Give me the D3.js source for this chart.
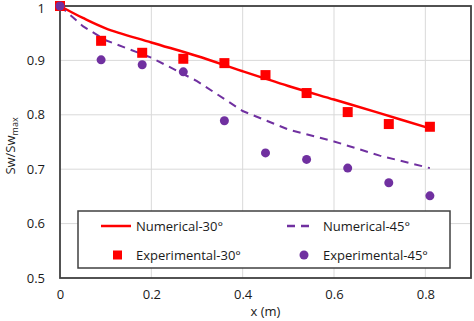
<!DOCTYPE html>
<html>
<head>
<meta charset="utf-8">
<script src="https://cdn.jsdelivr.net/npm/d3@7"></script>
<style>
  body { margin: 0; background: #fff; }
  svg text { font-family: "Open Sans", "Liberation Sans", sans-serif; fill: #1a1a1a; }
</style>
</head>
<body>
<svg id="chart" width="474" height="321"></svg>
<script>
// experimental points
var expX = [0, 0.09, 0.18, 0.27, 0.36, 0.45, 0.54, 0.63, 0.72, 0.81];
var exp30 = [1, 0.936, 0.914, 0.903, 0.895, 0.873, 0.840, 0.805, 0.783, 0.778];
var exp45 = [1, 0.901, 0.892, 0.879, 0.789, 0.730, 0.718, 0.702, 0.675, 0.651];

// numerical curves
var numX = [0, 0.05, 0.1, 0.2, 0.3, 0.4, 0.5, 0.6, 0.7, 0.81];
var num30 = [1, 0.978, 0.959, 0.933, 0.908, 0.880, 0.853, 0.828, 0.803, 0.775];
var num45 = [1, 0.963, 0.937, 0.905, 0.862, 0.807, 0.773, 0.751, 0.725, 0.702];

var xTicks = [0, 0.2, 0.4, 0.6, 0.8];
var yTicks = [0.5, 0.6, 0.7, 0.8, 0.9, 1];

var legendItems = [
  {label: "Numerical-30°", kind: "line"},
  {label: "Numerical-45°", kind: "dash"},
  {label: "Experimental-30°", kind: "square"},
  {label: "Experimental-45°", kind: "circle"}
];

(function(){
var red = "#ff0000", purple = "#7030a0";
var svg = d3.select("#chart");
var pL = 60, pR = 471, pT = 6, pB = 278;

var xScale = d3.scaleLinear().domain([0, 0.9]).range([pL, pR]);
var yScale = d3.scaleLinear().domain([0.5, 1]).range([pB, pT]);

// grid
var grid = svg.append("g");
grid.selectAll(".gx").data(xTicks.slice(1)).enter().append("line")
  .attr("x1", d => xScale(d)).attr("x2", d => xScale(d))
  .attr("y1", pT).attr("y2", pB)
  .attr("stroke", "#d9d9d9").attr("stroke-width", 1);
grid.selectAll(".gy").data(yTicks.slice(1)).enter().append("line")
  .attr("x1", pL).attr("x2", pR)
  .attr("y1", d => yScale(d)).attr("y2", d => yScale(d))
  .attr("stroke", "#d9d9d9").attr("stroke-width", 1);

// axes labels
var xAxis = svg.append("g").attr("transform", "translate(0," + pB + ")")
  .call(d3.axisBottom(xScale).tickValues(xTicks).tickSize(0).tickPadding(12).tickFormat(d => d === 0 ? "0" : d3.format(".1f")(d)));
var yAxis = svg.append("g").attr("transform", "translate(" + pL + ",0)")
  .call(d3.axisLeft(yScale).tickValues(yTicks).tickSize(0).tickPadding(15).tickFormat(d => d === 1 ? "1" : d3.format(".1f")(d)));
[xAxis, yAxis].forEach(function(a){
  a.select(".domain").remove();
  a.selectAll("text").style("font-size", "13px").attr("fill", "#1a1a1a");
});
// keep the top label inside the window
yAxis.selectAll(".tick").filter(d => d === 1).select("text").attr("dy", "0.5em");

// frame
svg.append("rect").attr("x", pL).attr("y", pT)
  .attr("width", pR - pL).attr("height", pB - pT)
  .attr("fill", "none").attr("stroke", "#404040").attr("stroke-width", 1.8);

// lines
var smooth = d3.line().x(d => xScale(d[0])).y(d => yScale(d[1])).curve(d3.curveCatmullRom);
var straight = d3.line().x(d => xScale(d[0])).y(d => yScale(d[1]));
svg.append("path").datum(numX.map((x, i) => [x, num30[i]]))
  .attr("d", smooth).attr("fill", "none").attr("stroke", red).attr("stroke-width", 2.5);
svg.append("path").datum(numX.map((x, i) => [x, num45[i]]))
  .attr("d", straight).attr("fill", "none").attr("stroke", purple).attr("stroke-width", 2)
  .attr("stroke-dasharray", "8,6");

// points
svg.selectAll(".sq").data(expX.map((x, i) => [x, exp30[i]])).enter().append("rect")
  .attr("x", d => xScale(d[0]) - 5).attr("y", d => yScale(d[1]) - 5)
  .attr("width", 10).attr("height", 10).attr("fill", red);
svg.selectAll(".ci").data(expX.map((x, i) => [x, exp45[i]])).enter().append("circle")
  .attr("cx", d => xScale(d[0])).attr("cy", d => yScale(d[1]))
  .attr("r", 4.5).attr("fill", purple);

// legend
var lg = svg.append("g");
lg.append("rect").attr("x", 78).attr("y", 211).attr("width", 372).attr("height", 57)
  .attr("fill", "#fff").attr("stroke", "#404040").attr("stroke-width", 1.5);
var cols = [101, 287], rows = [226, 255];
legendItems.forEach(function(it, i){
  var sx = cols[i % 2], cy = rows[Math.floor(i / 2)];
  if (it.kind === "line") {
    lg.append("line").attr("x1", sx).attr("x2", sx + 30).attr("y1", cy).attr("y2", cy)
      .attr("stroke", red).attr("stroke-width", 2.5);
  } else if (it.kind === "dash") {
    lg.append("line").attr("x1", sx).attr("x2", sx + 26).attr("y1", cy).attr("y2", cy)
      .attr("stroke", purple).attr("stroke-width", 2.5).attr("stroke-dasharray", "8,6");
  } else if (it.kind === "square") {
    lg.append("rect").attr("x", sx + 12).attr("y", cy - 4.5).attr("width", 9).attr("height", 9).attr("fill", red);
  } else {
    lg.append("circle").attr("cx", sx + 17).attr("cy", cy).attr("r", 4.5).attr("fill", purple);
  }
  lg.append("text").attr("x", i % 2 === 0 ? 136 : 323).attr("y", cy).attr("dy", "0.35em")
    .style("font-size", "13px").text(it.label);
});

// axis titles
svg.append("text").attr("x", (pL + pR) / 2).attr("y", 316).attr("text-anchor", "middle")
  .style("font-size", "13px").text("x (m)");
var yt = svg.append("text").attr("transform", "translate(15,146) rotate(-90)")
  .attr("text-anchor", "middle").style("font-size", "13px");
yt.append("tspan").text("Sw/Sw");
yt.append("tspan").attr("dy", 3).style("font-size", "9px").text("max");
})();
</script>
</body>
</html>
